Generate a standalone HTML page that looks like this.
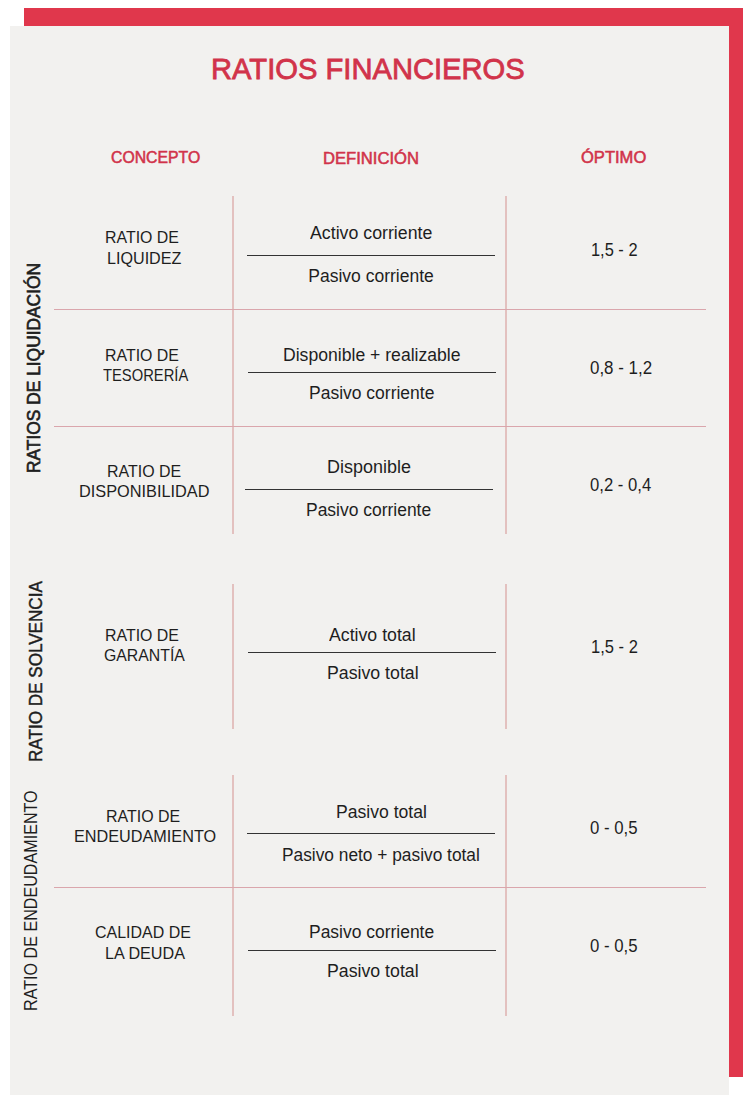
<!DOCTYPE html>
<html lang="es"><head><meta charset="utf-8"><title>Ratios financieros</title>
<style>
html,body{margin:0;padding:0;}
body{width:750px;height:1105px;position:relative;overflow:hidden;background:#fff;font-family:"Liberation Sans",sans-serif;}
.a{position:absolute;white-space:nowrap;}
.r{position:absolute;}
</style></head><body>

<div class="r" style="left:24px;top:8px;width:719px;height:1069px;background:#e0374c"></div>
<div class="r" style="left:10px;top:26px;width:719px;height:1069px;background:#f2f1ef"></div>
<div class="r" style="left:232px;top:196px;width:2px;height:338px;background:#e3c1bf"></div>
<div class="r" style="left:505px;top:196px;width:2px;height:338px;background:#e3c1bf"></div>
<div class="r" style="left:232px;top:584px;width:2px;height:145px;background:#e3c1bf"></div>
<div class="r" style="left:505px;top:584px;width:2px;height:145px;background:#e3c1bf"></div>
<div class="r" style="left:232px;top:775px;width:2px;height:241px;background:#e3c1bf"></div>
<div class="r" style="left:505px;top:775px;width:2px;height:241px;background:#e3c1bf"></div>
<div class="r" style="left:54px;top:309px;width:652px;height:1px;background:#daa6ac"></div>
<div class="r" style="left:54px;top:426px;width:652px;height:1px;background:#daa6ac"></div>
<div class="r" style="left:54px;top:887px;width:652px;height:1px;background:#daa6ac"></div>
<div class="r" style="left:247px;top:255px;width:248px;height:1px;background:#333333"></div>
<div class="r" style="left:248px;top:372px;width:248px;height:1px;background:#333333"></div>
<div class="r" style="left:245px;top:489px;width:248px;height:1px;background:#333333"></div>
<div class="r" style="left:248px;top:652px;width:248px;height:1px;background:#333333"></div>
<div class="r" style="left:247px;top:833px;width:248px;height:1px;background:#333333"></div>
<div class="r" style="left:248px;top:950px;width:248px;height:1px;background:#333333"></div>
<div class="a" style="left:210.76px;top:54.00px;font:normal 30px/30px 'Liberation Sans',sans-serif;-webkit-text-stroke:0.8px currentColor;transform-origin:0 0;transform:scaleX(0.9719);color:#d1334a">RATIOS FINANCIEROS</div>
<div class="a" style="left:111.04px;top:149.20px;font:normal 16.5px/16.5px 'Liberation Sans',sans-serif;-webkit-text-stroke:0.55px currentColor;transform-origin:0 0;transform:scaleX(0.9565);color:#d1334a">CONCEPTO</div>
<div class="a" style="left:322.59px;top:150.00px;font:normal 16.5px/16.5px 'Liberation Sans',sans-serif;-webkit-text-stroke:0.55px currentColor;transform-origin:0 0;transform:scaleX(1.0065);color:#d1334a">DEFINICIÓN</div>
<div class="a" style="left:581.00px;top:149.40px;font:normal 16.5px/16.5px 'Liberation Sans',sans-serif;-webkit-text-stroke:0.55px currentColor;transform-origin:0 0;transform:scaleX(1.0031);color:#d1334a">ÓPTIMO</div>
<div class="a" style="left:105.44px;top:229.00px;font:normal 16.5px/16.5px 'Liberation Sans',sans-serif;transform-origin:0 0;transform:scaleX(0.9640);color:#1e1e1e">RATIO DE</div>
<div class="a" style="left:106.62px;top:249.50px;font:normal 16.5px/16.5px 'Liberation Sans',sans-serif;transform-origin:0 0;transform:scaleX(0.9773);color:#1e1e1e">LIQUIDEZ</div>
<div class="a" style="left:105.44px;top:346.50px;font:normal 16.5px/16.5px 'Liberation Sans',sans-serif;transform-origin:0 0;transform:scaleX(0.9640);color:#1e1e1e">RATIO DE</div>
<div class="a" style="left:102.50px;top:366.70px;font:normal 16.5px/16.5px 'Liberation Sans',sans-serif;transform-origin:0 0;transform:scaleX(0.8947);color:#1e1e1e">TESORERÍA</div>
<div class="a" style="left:107.43px;top:463.20px;font:normal 16.5px/16.5px 'Liberation Sans',sans-serif;transform-origin:0 0;transform:scaleX(0.9667);color:#1e1e1e">RATIO DE</div>
<div class="a" style="left:79.21px;top:482.90px;font:normal 16.5px/16.5px 'Liberation Sans',sans-serif;transform-origin:0 0;transform:scaleX(0.9885);color:#1e1e1e">DISPONIBILIDAD</div>
<div class="a" style="left:105.44px;top:626.50px;font:normal 16.5px/16.5px 'Liberation Sans',sans-serif;transform-origin:0 0;transform:scaleX(0.9640);color:#1e1e1e">RATIO DE</div>
<div class="a" style="left:104.44px;top:646.70px;font:normal 16.5px/16.5px 'Liberation Sans',sans-serif;transform-origin:0 0;transform:scaleX(0.9590);color:#1e1e1e">GARANTÍA</div>
<div class="a" style="left:105.53px;top:807.70px;font:normal 16.5px/16.5px 'Liberation Sans',sans-serif;transform-origin:0 0;transform:scaleX(0.9667);color:#1e1e1e">RATIO DE</div>
<div class="a" style="left:73.72px;top:827.50px;font:normal 16.5px/16.5px 'Liberation Sans',sans-serif;transform-origin:0 0;transform:scaleX(0.9832);color:#1e1e1e">ENDEUDAMIENTO</div>
<div class="a" style="left:94.63px;top:924.30px;font:normal 16.5px/16.5px 'Liberation Sans',sans-serif;transform-origin:0 0;transform:scaleX(0.9680);color:#1e1e1e">CALIDAD DE</div>
<div class="a" style="left:104.62px;top:944.70px;font:normal 16.5px/16.5px 'Liberation Sans',sans-serif;transform-origin:0 0;transform:scaleX(0.9800);color:#1e1e1e">LA DEUDA</div>
<div class="a" style="left:310.00px;top:225.30px;font:normal 17.5px/17.5px 'Liberation Sans',sans-serif;transform-origin:0 0;transform:scaleX(1.0142);color:#1e1e1e">Activo corriente</div>
<div class="a" style="left:308.30px;top:268.40px;font:normal 17.5px/17.5px 'Liberation Sans',sans-serif;transform-origin:0 0;transform:scaleX(1.0000);color:#1e1e1e">Pasivo corriente</div>
<div class="a" style="left:282.99px;top:346.60px;font:normal 17.5px/17.5px 'Liberation Sans',sans-serif;transform-origin:0 0;transform:scaleX(1.0057);color:#1e1e1e">Disponible + realizable</div>
<div class="a" style="left:309.00px;top:385.30px;font:normal 17.5px/17.5px 'Liberation Sans',sans-serif;transform-origin:0 0;transform:scaleX(0.9992);color:#1e1e1e">Pasivo corriente</div>
<div class="a" style="left:326.67px;top:459.40px;font:normal 17.5px/17.5px 'Liberation Sans',sans-serif;transform-origin:0 0;transform:scaleX(1.0263);color:#1e1e1e">Disponible</div>
<div class="a" style="left:305.90px;top:501.70px;font:normal 17.5px/17.5px 'Liberation Sans',sans-serif;transform-origin:0 0;transform:scaleX(0.9976);color:#1e1e1e">Pasivo corriente</div>
<div class="a" style="left:329.00px;top:627.20px;font:normal 17.5px/17.5px 'Liberation Sans',sans-serif;transform-origin:0 0;transform:scaleX(1.0118);color:#1e1e1e">Activo total</div>
<div class="a" style="left:326.69px;top:665.30px;font:normal 17.5px/17.5px 'Liberation Sans',sans-serif;transform-origin:0 0;transform:scaleX(1.0125);color:#1e1e1e">Pasivo total</div>
<div class="a" style="left:336.00px;top:803.70px;font:normal 17.5px/17.5px 'Liberation Sans',sans-serif;transform-origin:0 0;transform:scaleX(1.0045);color:#1e1e1e">Pasivo total</div>
<div class="a" style="left:282.31px;top:846.70px;font:normal 17.5px/17.5px 'Liberation Sans',sans-serif;transform-origin:0 0;transform:scaleX(0.9894);color:#1e1e1e">Pasivo neto + pasivo total</div>
<div class="a" style="left:309.40px;top:924.40px;font:normal 17.5px/17.5px 'Liberation Sans',sans-serif;transform-origin:0 0;transform:scaleX(0.9976);color:#1e1e1e">Pasivo corriente</div>
<div class="a" style="left:326.69px;top:963.20px;font:normal 17.5px/17.5px 'Liberation Sans',sans-serif;transform-origin:0 0;transform:scaleX(1.0125);color:#1e1e1e">Pasivo total</div>
<div class="a" style="left:591.26px;top:241.60px;font:normal 17.5px/17.5px 'Liberation Sans',sans-serif;transform-origin:0 0;transform:scaleX(0.9375);color:#1e1e1e">1,5 - 2</div>
<div class="a" style="left:590.33px;top:359.70px;font:normal 17.5px/17.5px 'Liberation Sans',sans-serif;transform-origin:0 0;transform:scaleX(0.9677);color:#1e1e1e">0,8 - 1,2</div>
<div class="a" style="left:590.35px;top:477.30px;font:normal 17.5px/17.5px 'Liberation Sans',sans-serif;transform-origin:0 0;transform:scaleX(0.9524);color:#1e1e1e">0,2 - 0,4</div>
<div class="a" style="left:591.06px;top:639.30px;font:normal 17.5px/17.5px 'Liberation Sans',sans-serif;transform-origin:0 0;transform:scaleX(0.9437);color:#1e1e1e">1,5 - 2</div>
<div class="a" style="left:590.34px;top:820.00px;font:normal 17.5px/17.5px 'Liberation Sans',sans-serif;transform-origin:0 0;transform:scaleX(0.9583);color:#1e1e1e">0 - 0,5</div>
<div class="a" style="left:590.34px;top:938.00px;font:normal 17.5px/17.5px 'Liberation Sans',sans-serif;transform-origin:0 0;transform:scaleX(0.9583);color:#1e1e1e">0 - 0,5</div>
<div class="a" style="left:26.00px;top:473.49px;transform-origin:0 0;transform:rotate(-90deg) scaleX(0.9924);font:normal 17.5px/17.5px 'Liberation Sans',sans-serif;-webkit-text-stroke:0.65px currentColor;color:#1e1e1e">RATIOS DE LIQUIDACIÓN</div>
<div class="a" style="left:28.40px;top:761.67px;transform-origin:0 0;transform:rotate(-90deg) scaleX(0.9719);font:normal 17.6px/17.6px 'Liberation Sans',sans-serif;-webkit-text-stroke:0.45px currentColor;color:#1e1e1e">RATIO DE SOLVENCIA</div>
<div class="a" style="left:22.10px;top:1011.39px;transform-origin:0 0;transform:rotate(-90deg) scaleX(0.8955);font:normal 18px/18px 'Liberation Sans',sans-serif;color:#1e1e1e">RATIO DE ENDEUDAMIENTO</div>
</body></html>
